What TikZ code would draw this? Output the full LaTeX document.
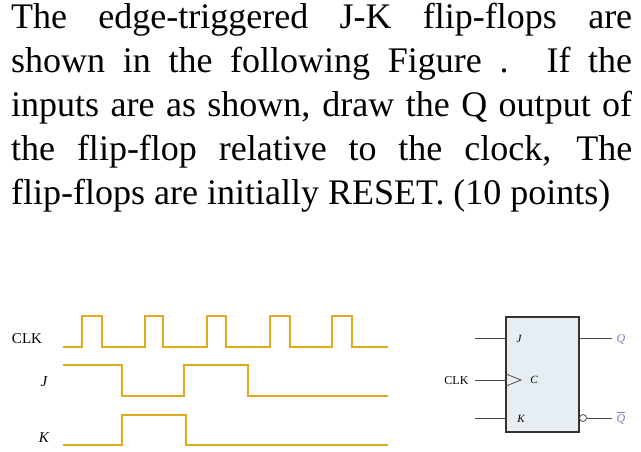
\documentclass[tikz,border=0pt]{standalone}
\usepackage{fontspec}
\setmainfont{Liberation Serif}
\begin{document}
\begin{tikzpicture}[x=1pt,y=-1pt,
  wave/.style={draw={rgb,255:red,222;green,170;blue,30},line width=2.2pt},
  wire/.style={draw=black!70,line width=0.8pt},
  lbl/.style={font=\fontsize{15}{15}\selectfont},
  qlbl/.style={font=\fontsize{12}{12}\selectfont\itshape,text={rgb,255:red,150;green,110;blue,200}}]
\useasboundingbox (0,0) rectangle (641,452);
\node[anchor=north west,text width=621pt,align=justify,inner sep=0pt,font=\fontsize{36}{44}\selectfont] (q) at (11,3)
{The edge-triggered J-K flip-flops are\linebreak shown in the following Figure . If the\linebreak inputs are as shown, draw the Q output of\linebreak the flip-flop relative to the clock, The\linebreak flip-flops are initially RESET. (10 points)};
% waveforms
\draw[wave] (63,347) -- (82,347) -- (82,316) -- (102,316) -- (102,347) -- (145,347) -- (145,316) -- (163,316) -- (163,347)
 -- (207,347) -- (207,316) -- (226,316) -- (226,347) -- (270,347) -- (270,316) -- (290,316) -- (290,347)
 -- (332,347) -- (332,316) -- (352,316) -- (352,347) -- (388,347);
\draw[wave] (63,365) -- (122,365) -- (122,396) -- (184,396) -- (184,365) -- (248,365) -- (248,396) -- (388,396);
\draw[wave] (63,445) -- (122,445) -- (122,415) -- (186,415) -- (186,445) -- (388,445);
\node[lbl] (lclk) at (27,339) {CLK};
\node[lbl,font=\fontsize{15}{15}\selectfont\itshape] (lj) at (44,382) {J};
\node[lbl,font=\fontsize{15}{15}\selectfont\itshape] (lk) at (44,438) {K};
% flip-flop
\node[draw=black!80,line width=1.3pt,fill={rgb,255:red,230;green,238;blue,243},minimum width=73pt,minimum height=115pt,inner sep=0pt] (ff) at (542.5,374.5) {};
\coordinate (jin) at (475,338); \coordinate (cin) at (475,380); \coordinate (kin) at (475,418);
\draw[wire] (jin) -- (jin -| ff.west);
\draw[wire] (cin) -- (cin -| ff.west);
\draw[wire] (kin) -- (kin -| ff.west);
\node[font=\fontsize{11}{11}\selectfont\itshape] (fj) at (519,339) {J};
\node[font=\fontsize{11}{11}\selectfont\itshape] (fc) at (534,380) {C};
\node[font=\fontsize{11}{11}\selectfont\itshape] (fk) at (521,419) {K};
\draw[wire] (506,374) -- (521,380) -- (506,386);
\node[font=\fontsize{12}{12}\selectfont,anchor=east] (fclk) at (472,381) {CLK};
\draw[wire] (ff.east |- jin) -- (612,338);
\node[qlbl] (q1) at (621,339) {Q};
\node[circle,draw=black!70,line width=0.8pt,fill=white,inner sep=0pt,minimum size=7pt] (bub) at (583,418) {};
\draw[wire] (bub.east) -- (612,418);
\node[qlbl] (q2) at (621,418) {$\overline{\mbox{\itshape Q}}$};
\end{tikzpicture}
\end{document}
